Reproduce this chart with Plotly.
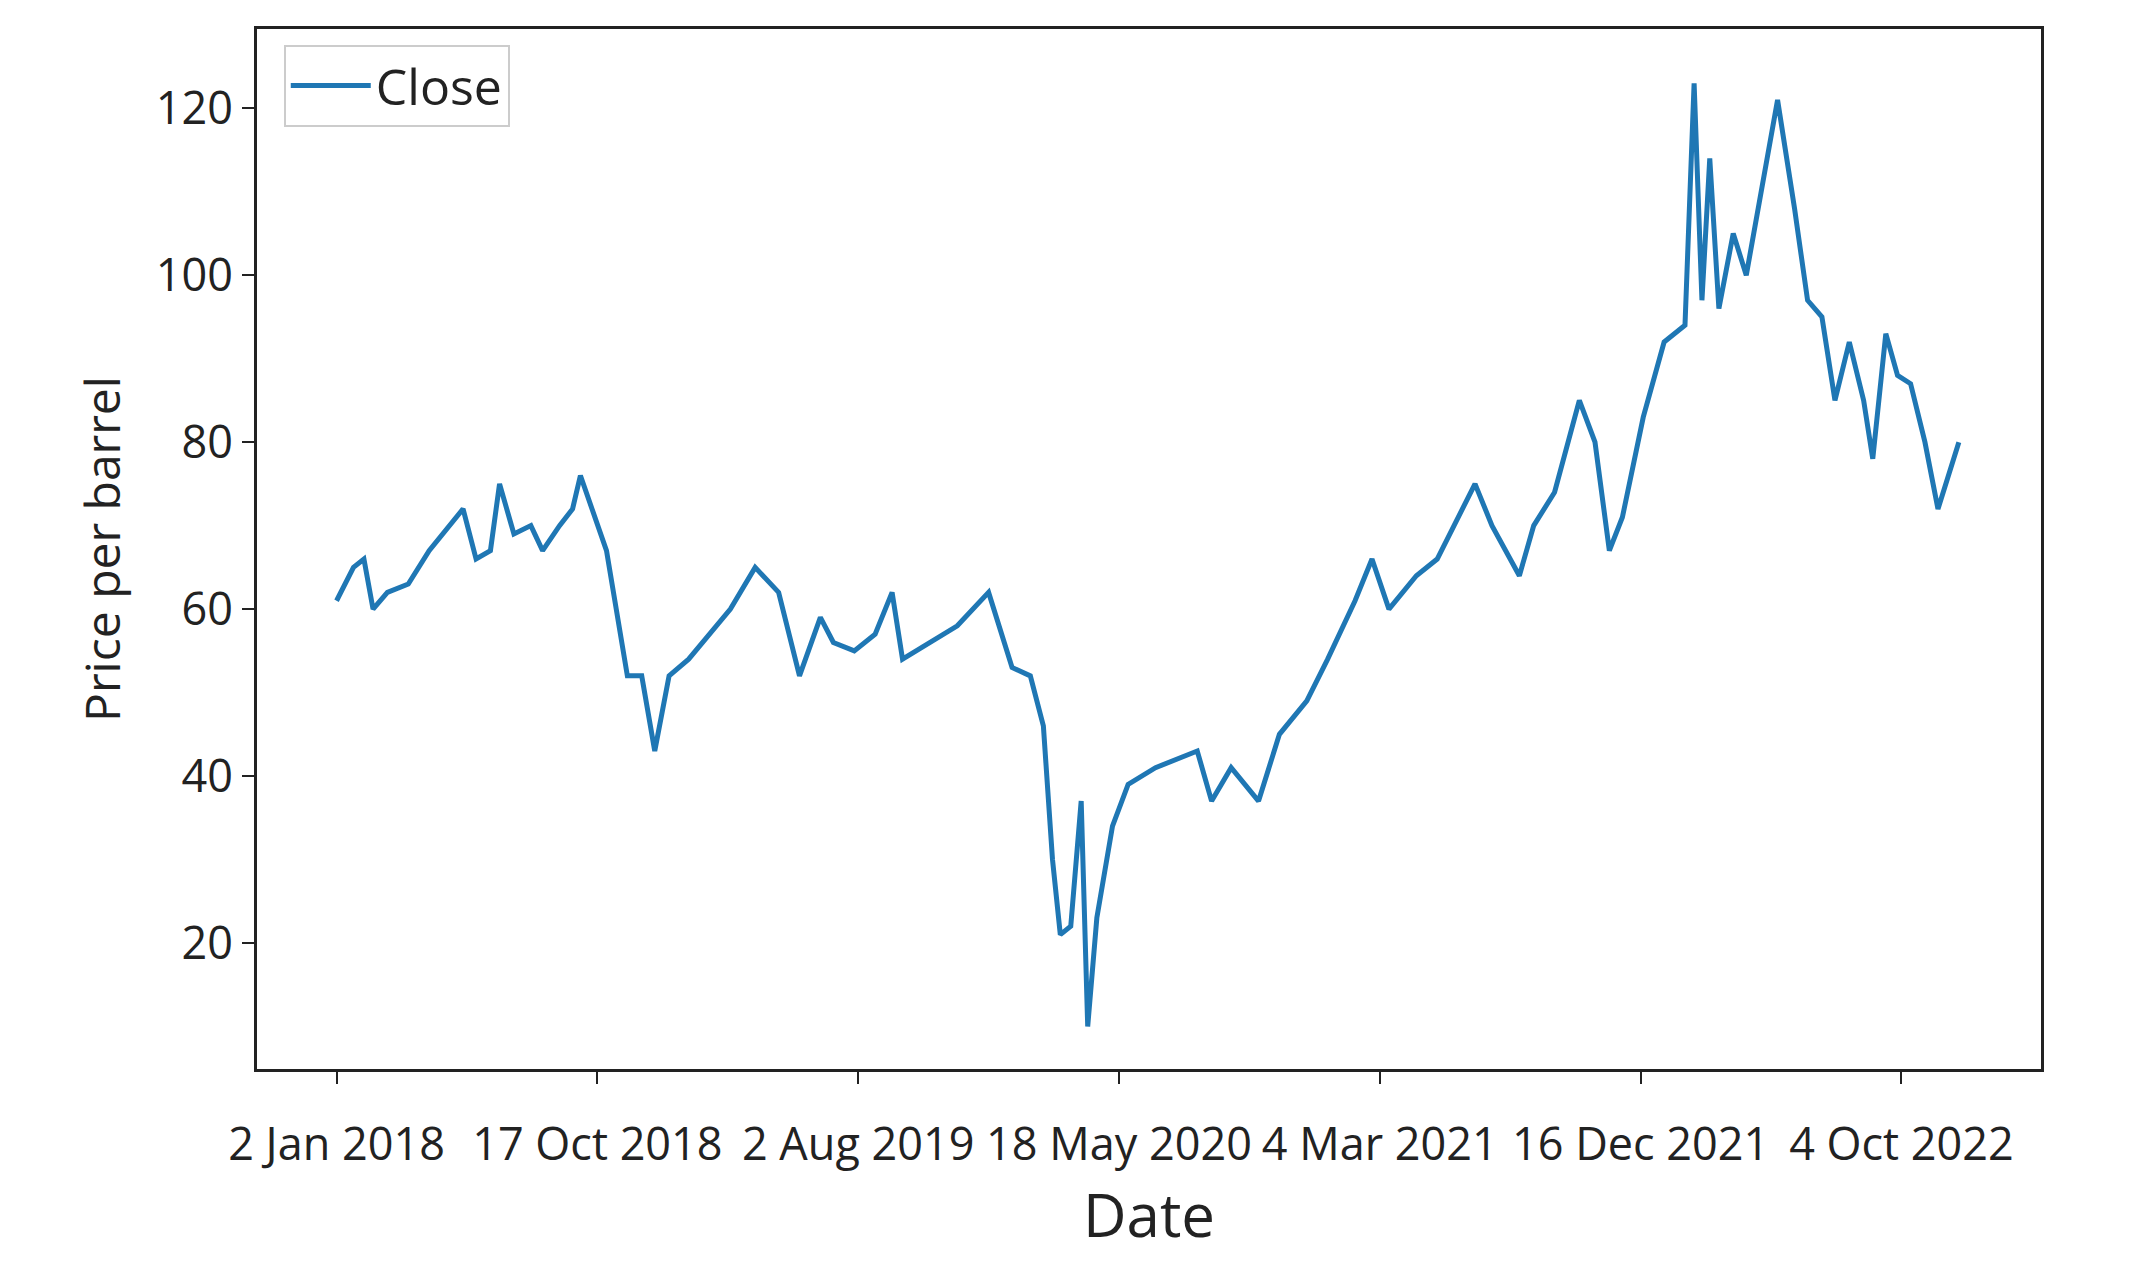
import plotly.graph_objects as go

idx = [0,13,21,28,39,55,71,86,97,107,118,125,136,149,158,171,181,187,207,223,234,244,255,270,286,302,321,339,355,371,381,397,413,426,434,455,476,500,518,532,542,549,555,563,566,571,576,583,595,607,628,660,671,686,707,723,744,760,781,794,807,828,844,860,873,886,897,907,918,934,953,965,976,986,1002,1018,1034,1041,1047,1053,1060,1071,1081,1092,1105,1118,1128,1139,1149,1160,1171,1178,1188,1197,1207,1218,1228,1244]
close = [61,65,66,60,62,63,67,70,72,66,67,75,69,70,67,70,72,76,67,52,52,43,52,54,57,60,65,62,52,59,56,55,57,62,54,56,58,62,53,52,46,30,21,22,28,37,10,23,34,39,41,43,37,41,37,45,49,54,61,66,60,64,66,71,75,70,67,64,70,74,85,80,67,71,83,92,94,123,97,114,96,105,100,110,121,108,97,95,85,92,85,78,93,88,87,80,72,80]
tick_vals = [0,200,400,600,800,1000,1200]
tick_text = ["2 Jan 2018","17 Oct 2018","2 Aug 2019","18 May 2020","4 Mar 2021","16 Dec 2021","4 Oct 2022"]

fig = go.Figure(go.Scatter(x=idx, y=close, mode="lines", name="Close",
                           line=dict(color="#1f77b4", width=5)))
ax = dict(showgrid=False, zeroline=False, showline=True, mirror=True, linecolor="#222", linewidth=3,
          ticks="outside", ticklen=12, tickwidth=2, tickcolor="#222")
fig.update_layout(
    width=2156, height=1288, paper_bgcolor="white", plot_bgcolor="white",
    margin=dict(l=249, r=123, t=21, b=227),
    font=dict(family="Open Sans, DejaVu Sans", size=45, color="#222"),
    xaxis=dict(**ax, range=[-61, 1307], tickvals=tick_vals, ticktext=tick_text, ticklabelstandoff=22,
               title=dict(text="Date", font=dict(size=60), standoff=12)),
    yaxis=dict(**ax, range=[4.9, 129.5], tickvals=[20,40,60,80,100,120],
               title=dict(text="Price per barrel", font=dict(size=48), standoff=20)),
    showlegend=True,
    legend=dict(x=0.015, y=0.985, xanchor="left", yanchor="top", bgcolor="white",
                bordercolor="#ccc", borderwidth=2, font=dict(size=50), itemwidth=80),
)
fig.write_html("out.html")
